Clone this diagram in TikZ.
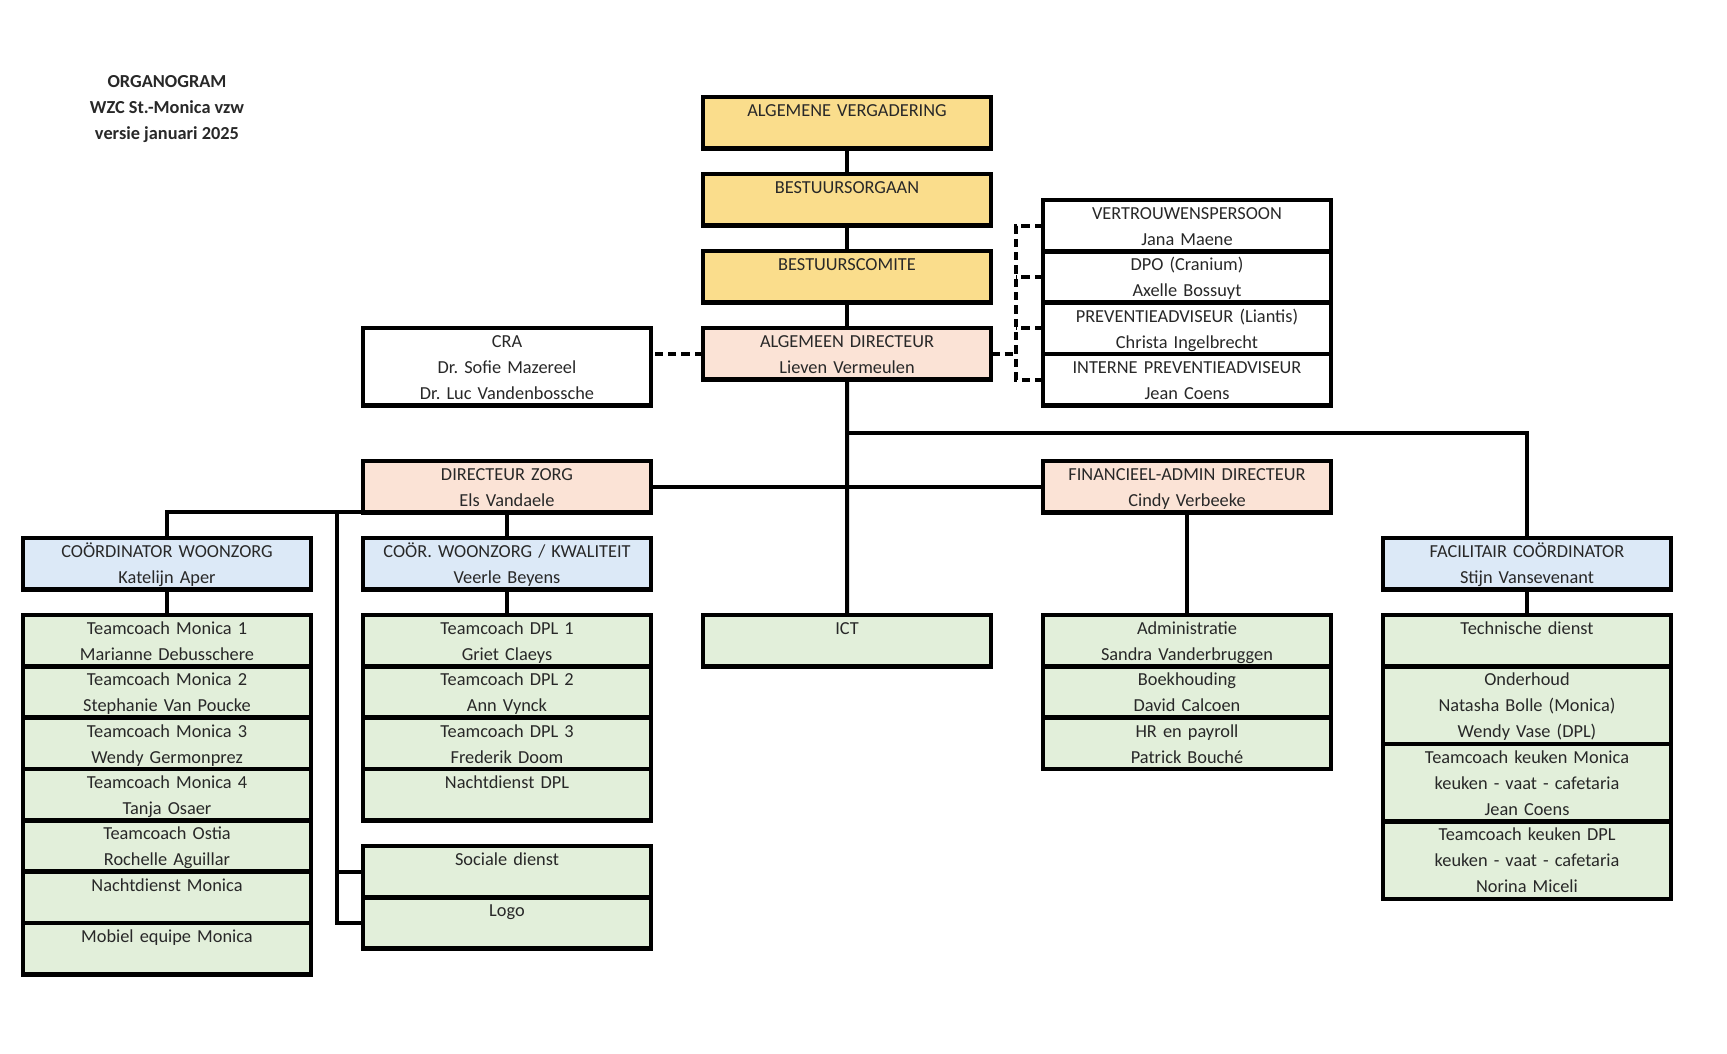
\documentclass[tikz,border=0pt]{standalone}
\usepackage{fontspec}
\setmainfont{Carlito}
\usetikzlibrary{positioning}
\definecolor{Gold}{RGB}{250,221,140}
\definecolor{Salmon}{RGB}{251,227,214}
\definecolor{Sky}{RGB}{220,233,247}
\definecolor{Mint}{RGB}{226,239,218}
\definecolor{Ink}{RGB}{40,40,40}
\frenchspacing
\tikzset{
  unit/.style={draw,line width=2.7pt,outer sep=0pt,inner xsep=3pt,inner ysep=0pt,text width=167pt,align=center,text height=11.8pt,text depth=19pt,font=\fontsize{11}{15.5}\selectfont,text=Ink},
  tall/.style={unit,text depth=34.7pt},
  wire/.style={line width=2.4pt},
  link/.style={line width=2.4pt,dash pattern=on 5pt off 3pt},
}

\begin{document}
\begin{tikzpicture}[x=0.6pt,y=-0.6pt,node distance=15.4pt]
\fill[white] (0,0) rectangle (1727,1054);
\node[font=\bfseries\fontsize{11}{15.6}\selectfont,align=center,text=Ink] (title) at (167,109) {ORGANOGRAM\\WZC St.-Monica vzw\\versie januari 2025};
% top
\node[unit,fill=Gold,anchor=north] (av) at (847,97) {ALGEMENE VERGADERING};
\node[unit,fill=Gold,below=of av] (bo) {BESTUURSORGAAN};
\node[unit,fill=Gold,below=of bo] (bc) {BESTUURSCOMITE};
\node[unit,fill=Salmon,below=of bc] (ad) {ALGEMEEN DIRECTEUR\\Lieven Vermeulen};
\node[tall,fill=white,anchor=north] (cra) at (507,328) {CRA\\Dr. Sofie Mazereel\\Dr. Luc Vandenbossche};
\node[unit,fill=white,anchor=north] (vp) at (1187,200) {VERTROUWENSPERSOON\\Jana Maene};
\node[unit,fill=white,below=0pt of vp] (dpo) {DPO (Cranium)\\Axelle Bossuyt};
\node[unit,fill=white,below=0pt of dpo] (pa) {PREVENTIEADVISEUR (Liantis)\\Christa Ingelbrecht};
\node[unit,fill=white,below=0pt of pa] (ipa) {INTERNE PREVENTIEADVISEUR\\Jean Coens};
% zorg
\node[unit,fill=Salmon,anchor=north] (dz) at (507,461) {DIRECTEUR ZORG\\Els Vandaele};
\node[unit,fill=Sky,below=of dz] (cwB) {COÖR. WOONZORG / KWALITEIT\\Veerle Beyens};
\node[unit,fill=Sky,left=31pt of cwB] (cwA) {COÖRDINATOR WOONZORG\\Katelijn Aper};
\node[unit,fill=Mint,below=of cwA] (tmA1) {Teamcoach Monica 1\\Marianne Debusschere};
\node[unit,fill=Mint,below=0pt of tmA1] (tmA2) {Teamcoach Monica 2\\Stephanie Van Poucke};
\node[unit,fill=Mint,below=0pt of tmA2] (tmA3) {Teamcoach Monica 3\\Wendy Germonprez};
\node[unit,fill=Mint,below=0pt of tmA3] (tmA4) {Teamcoach Monica 4\\Tanja Osaer};
\node[unit,fill=Mint,below=0pt of tmA4] (tmA5) {Teamcoach Ostia\\Rochelle Aguillar};
\node[unit,fill=Mint,below=0pt of tmA5] (tmA6) {Nachtdienst Monica};
\node[unit,fill=Mint,below=0pt of tmA6] (tmA7) {Mobiel equipe Monica};
\node[unit,fill=Mint,below=of cwB] (tdB1) {Teamcoach DPL 1\\Griet Claeys};
\node[unit,fill=Mint,below=0pt of tdB1] (tdB2) {Teamcoach DPL 2\\Ann Vynck};
\node[unit,fill=Mint,below=0pt of tdB2] (tdB3) {Teamcoach DPL 3\\Frederik Doom};
\node[unit,fill=Mint,below=0pt of tdB3] (tdB4) {Nachtdienst DPL};
\node[unit,fill=Mint,below=of tdB4] (sd) {Sociale dienst};
\node[unit,fill=Mint,below=0pt of sd] (logo) {Logo};
% ict, admin, facilitair
\node[unit,fill=Mint,right=31pt of tdB1] (ict) {ICT};
\node[unit,fill=Mint,right=31pt of ict] (adm) {Administratie\\Sandra Vanderbruggen};
\node[unit,fill=Mint,below=0pt of adm] (bk) {Boekhouding\\David Calcoen};
\node[unit,fill=Mint,below=0pt of bk] (hr) {HR en payroll\\Patrick Bouché};
\node[unit,fill=Salmon,anchor=north] (fin) at (adm.north |- dz.north) {FINANCIEEL-ADMIN DIRECTEUR\\Cindy Verbeeke};
\node[unit,fill=Mint,right=31pt of adm] (tech) {Technische dienst};
\node[tall,fill=Mint,below=0pt of tech] (ond) {Onderhoud\\Natasha Bolle (Monica)\\Wendy Vase (DPL)};
\node[tall,fill=Mint,below=0pt of ond] (kkM) {Teamcoach keuken Monica\\keuken - vaat - cafetaria\\Jean Coens};
\node[tall,fill=Mint,below=0pt of kkM] (kkD) {Teamcoach keuken DPL\\keuken - vaat - cafetaria\\Norina Miceli};
\node[unit,fill=Sky,above=of tech] (fac) {FACILITAIR COÖRDINATOR\\Stijn Vansevenant};
% lines
\coordinate (bus) at (847,433);
\coordinate (spine) at (337,0);
\coordinate (brk) at (1016,0);
\draw[wire] (av) -- (bo);
\draw[wire] (bo) -- (bc);
\draw[wire] (bc) -- (ad);
\draw[wire] (ad) -- (ict);
\draw[wire] (bus) -| (fac);
\draw[wire] (dz) -- (fin);
\draw[wire] (fin) -- (adm);
\draw[wire] (fac) -- (tech);
\draw[wire] (dz.south) -| (cwA);
\draw[wire] (dz) -- (cwB);
\draw[wire] (cwA) -- (tmA1);
\draw[wire] (cwB) -- (tdB1);
\draw[wire] (dz.south -| spine) |- (sd.west);
\draw[wire] (dz.south -| spine) |- (logo.west);
\draw[link] (ad.west) -- (ad.west -| cra.east);
\draw[link] (ad.east) -- (ad.east -| brk);
\draw[link] (vp.west) -- (vp.west -| brk) -- (ipa.west -| brk) -- (ipa.west);
\draw[link] (dpo.west) -- (dpo.west -| brk);
\draw[link] (pa.west) -- (pa.west -| brk);
\end{tikzpicture}
\end{document}
